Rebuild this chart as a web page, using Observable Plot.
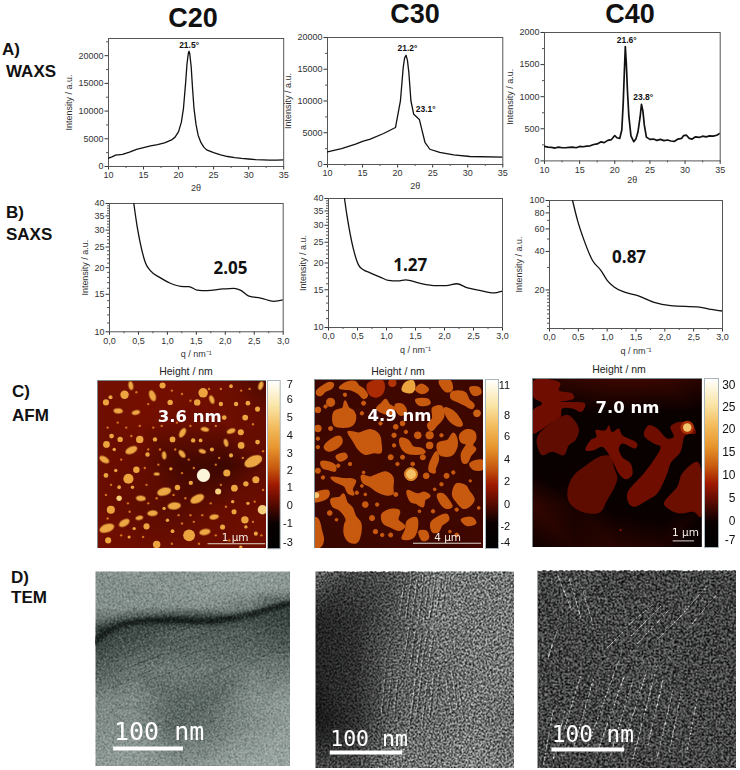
<!DOCTYPE html>
<html>
<head>
<meta charset="utf-8">
<script src="https://cdn.jsdelivr.net/npm/d3@7"></script>
<script src="https://cdn.jsdelivr.net/npm/@observablehq/plot@0.6"></script>
<style>
html,body{margin:0;padding:0;background:#fff}
#fig{position:relative;width:740px;height:770px;overflow:hidden;font-family:"Liberation Sans",sans-serif}
.t{position:absolute;white-space:nowrap;color:#111;line-height:1}
.head{font-weight:700;font-size:27px;transform:translateX(-50%)}
.sec{font-weight:700;font-size:17px}
.hn{font-size:10.5px;transform:translateX(-50%);color:#222}
</style>
</head>
<body>
<svg width="0" height="0" style="position:absolute">
<filter id="grainSoft" x="0" y="0" width="100%" height="100%" color-interpolation-filters="sRGB"><feTurbulence type="fractalNoise" baseFrequency="0.75" numOctaves="2" seed="4"/><feColorMatrix values="1.8 0 0 0 -0.4 1.8 0 0 0 -0.4 1.8 0 0 0 -0.4 0 0 0 0 1"/></filter>
<filter id="grainMid" x="0" y="0" width="100%" height="100%" color-interpolation-filters="sRGB"><feTurbulence type="fractalNoise" baseFrequency="0.75" numOctaves="1" seed="9"/><feColorMatrix values="3.4 0 0 0 -1.2 3.4 0 0 0 -1.2 3.4 0 0 0 -1.2 0 0 0 0 1"/></filter>
<filter id="grainHard" x="0" y="0" width="100%" height="100%" color-interpolation-filters="sRGB"><feTurbulence type="fractalNoise" baseFrequency="0.65" numOctaves="2" seed="15"/><feColorMatrix values="4 0 0 0 -1.5 4 0 0 0 -1.5 4 0 0 0 -1.5 0 0 0 0 1"/></filter>
</svg>
<div id="fig"></div>
<script>
// ---------- WAXS ----------
const waxsC20X=[10,10.5,11,12,13,14,15,16,17,18,19,19.5,20,20.4,20.7,21,21.2,21.4,21.5,21.6,21.8,22,22.2,22.5,22.8,23.2,23.6,24,25,26,27,28,29,30,31,32,33,34,35];
const waxsC20Y=[1500,1750,2050,2200,2600,3100,3400,3700,3950,4250,4800,5300,6300,8000,10500,15000,18500,20500,20800,20300,18000,14000,10500,7500,5600,4300,3500,3000,2500,2100,1800,1600,1450,1350,1250,1200,1150,1150,1200];
const waxsC30X=[10,12,14,15,16.1,18,19.7,20.4,20.8,21,21.2,21.4,21.6,21.9,22.3,22.8,23.1,23.5,23.9,24.6,26,28,30.3,35];
const waxsC30Y=[2000,2500,3200,3650,4000,4880,5830,10000,15300,16800,17200,16400,14500,10000,7900,7400,7100,5300,3500,2400,1900,1520,1260,1150];
const waxsC40X=[10,10.5,11,11.5,12,12.5,13,13.5,14,14.5,15,15.5,16,16.5,17,17.5,18,18.5,19,19.5,20,20.3,20.7,21,21.2,21.35,21.5,21.65,21.8,22,22.3,22.7,23,23.3,23.6,23.8,24,24.2,24.5,25,25.5,26,26.5,27,27.5,28,28.5,29,29.5,29.8,30.2,30.6,31,31.5,32,32.5,33,33.5,34,34.5,35];
const waxsC40Y=[225,215,210,200,215,205,205,210,215,205,225,220,230,235,255,265,295,285,320,330,395,360,350,480,900,1350,1780,1500,1100,700,390,300,340,450,680,880,780,560,370,335,340,320,335,315,325,310,305,340,350,395,400,350,340,375,365,385,375,390,385,400,430];
const waxsXTicks=[10,15,20,25,30,35], waxsXMinor=[12.5,17.5,22.5,27.5,32.5];
const waxsC20Ticks=[0,5000,10000,15000,20000], waxsC20Minor=[2500,7500,12500,17500,22500];
const waxsC40Ticks=[0,500,1000,1500,2000], waxsC40Minor=[250,750,1250,1750];
const peaksC20=[[21.5,21900,"21.5°"]];
const peaksC30=[[21.4,18330,"21.2°"],[24,8720,"23.1°"]];
const peaksC40=[[21.7,1880,"21.6°"],[24.05,997,"23.8°"]];
// ---------- SAXS ----------
const saxsC20X=[.42,.48,.535,.62,.71,.88,1.05,1.28,1.37,1.51,1.69,1.92,2.15,2.26,2.41,2.61,2.84,3];
const saxsC20Y=[40,30.9,25.8,21.1,19.3,17.9,16.9,16.3,16.3,15.7,15.6,15.85,16,15.7,14.7,14.4,13.9,14.1];
const saxsC30X=[.276,.316,.374,.43,.517,.6,.718,.89,1.03,1.2,1.33,1.57,1.86,2.03,2.21,2.4,2.66,2.83,3];
const saxsC30Y=[40,33.6,27.3,23.2,19.6,18.6,18,17.2,16.6,16.5,16.7,16.1,15.7,15.7,16,15.3,14.8,14.5,14.8];
const saxsC40X=[.4,.486,.6,.746,.89,1,1.12,1.29,1.53,1.815,2.1,2.6,2.8,3];
const saxsC40Y=[100,69.9,48.8,34,28.5,23.8,21.1,19.3,18.1,16,15.1,14.7,14.1,13.7];
const saxsXTicks=[0,.5,1,1.5,2,2.5,3], saxsXMinor=[.25,.75,1.25,1.75,2.25,2.75];
const saxsYTicks=[10,15,20,25,30,35,40], saxsYMinor=[11,12,13,14,16,17,18,19,21,22,23,24,26,27,28,29,31,32,33,34,36,37,38,39];
const saxsC40Ticks=[20,40,60,80,100], saxsC40Minor=[10,11,12,13,14,15,16,17,18,19,30,50,70,90];
// ---------- AFM: positions are percent of the scan, h is height in nm ----------
const rampStops=[0,.15,.3,.38,.48,.6,.72,.85,1];
const rampColors=["#000000","#0a0000","#6e0e00","#a01a00","#c85a10","#e8962e","#f3bb5c","#fae6a8","#ffffff"];
const bgAxis=[0,25,50,75,100];
const afm20Bg=[.5,.5,.5,.4,-.1, .4,.5,.4,.4,.3, .4,.3,-.2,-.3,.2, .4,.2,.1,.3,.4, .5,.4,.4,.4,.4];
const afm30Bg=[-.5,-.6,-.5,-.5,-.6, -.6,-.5,-.5,-.6,-.5, -.5,-.5,-.6,-.5,-.6, -.6,-.5,-.5,-.5,-.5, -.7,-.6,-.5,-.6,-.5];
const afm40Bg=[.5,2,2.6,2.5,1.5, -1,-1,-1,-1,-1, -1,-.5,-.8,-1,-1, 2,.5,-.6,-1,0, 0,1,1.5,1,-1];
// x, y, r, rotate
const afm20Oval=[[19.7,3,2.6,80],[32.5,9,3.4,70],[12.2,18,2.8,5],[22.7,19,2.5,-10],[50.3,31,3.1,-60],[63.5,29,2.5,10],[79,30,2.7,-20],[76,37,2.4,75],[20,41.4,3.7,-25],[39.4,44.5,2.4,85],[50,43.6,2.7,50],[62,42,2.2,15],[4,47,3.2,30],[92.2,48,5.6,-25],[35,55.5,1.8,0],[39.4,66,4.2,-15],[25.6,70,2.9,5],[59,70.3,4.3,-25],[45.4,74.5,3.9,-5],[32.5,78.8,3.1,-5],[24.7,81.6,2.3,-10],[69,81,2.8,-10],[5.5,87.7,4.5,-20],[15.8,84.6,3.5,-30],[63.5,90,3.3,-10],[96.6,3,2.6,-70],[67.6,11.3,2.6,70]];
// x, y, r
const afm20Round=[[38.5,3,1.8],[16,8.5,2.5],[62.5,7.3,2.8],[5,13,1.8],[7.7,10,1.2],[43,13,1.6],[59,13,1.9],[73,14,1.3],[82,14,1.3],[89,13.5,1.4],[94.7,17,1.5],[79,3.4,1.1],[84.8,30.7,1.8],[87.4,22,1.7],[75,22,1.4],[25,35,2.2],[13.4,35,1.6],[8.3,33,1.4],[5.3,38,2],[34,35,1.3],[44.4,35,1.7],[56.6,35.6,1.3],[61,35.6,1.1],[85,38.6,2],[94.7,36.6,1.4],[9.9,41,1],[67.7,41,1.2],[79,44.5,1.2],[29.6,44,1.3],[23,53,1.9],[10.8,53.5,1],[43.4,52.5,1],[76.5,55,2.1],[18.3,58.4,3],[5,56.4,1.4],[93.7,59,2.1],[87.8,61.4,1.6],[81,64,2],[47.3,63.6,1.6],[55.2,60.8,1.3],[12.8,63.4,1.1],[20.7,63.4,1],[12.8,70,1.6],[39.4,76,1],[7.9,76.8,2.4],[80.8,78,1.5],[87.2,82.8,2.2],[80,72,1],[89,73,1],[29,86.7,1.8],[41.4,83,1],[54.2,92,3.5],[74,87,1.5],[44.4,89.5,1.1],[6.3,95,1.8],[35,97.4,2.2],[21.7,88,1],[18.7,93,.9],[84.8,99,1],[87.8,87,1],[93.7,91,1.2]];
const afm20Bright=[[62.7,56.4,3.9,6.5],[71.4,66,1.8,5],[97.6,76.8,2.8,5],[12.8,70,1.4,5]];
const afm20Specks=[[23,7],[30,14],[44,6],[50,8],[55,12],[66,5],[73,5],[85,6],[90,5],[12,25],[17,28],[25,27],[33,28],[38,27],[47,25],[55,27],[70,27],[92,26],[6,28],[20,33],[30,41],[37,41],[46,41],[54,47],[72,46],[86,46],[14,47],[28,52],[36,50],[50,55],[57,52],[70,50],[98,42],[8,62],[29,62],[35,70],[45,68],[52,70],[67,73],[73,62],[98,65],[93,72],[5,68],[18,73],[30,73],[6,82],[19,78],[48,80],[55,80],[62,80],[76,75],[92,84],[14,92],[27,93],[50,85],[57,84],[70,92],[78,95],[97,92],[44,97],[60,97]];
const afm30Shapes=[
[3.3,[1.5,7,5,4,9,2,11,3,10,5,6,7,4,9,2,9]],[3.3,[15,5,19,2,24,1.5,26,4,29,6,31,9.5,29,11,26,8,22,6,19,5.5]],[2.2,[31.5,3,35,1,40,1,41,4,40,8,37,10,33,9,31.5,6]],[5.8,[52,6,54,2,58,1,59,5,58,7,55,7.5]],[3.3,[60,6,63,3,67,6,64,8]],[3.3,[74,1,80,1,81,6,78,7,75,4]],[3.3,[81,8,85,7,89,8,91,12,94,15,93,17,89,15,85,13,81,11]],[3.3,[92,5,97,5,98,8,94,9]],[3.3,[12,19,17,17,18,13,20,17,23,19,24,23,22,27,17,28,12,27,11,23]],[3.3,[37,17,40,14,42,12,44,15,47,17,46,20,42,20,39,19]],[3.3,[60,12,67,12,68,14,62,15]],[3.3,[48,15,52,15,54,19,51,21,49,19]],[3.3,[70,17,75,16,76,22,72,27,69,30,67,27,70,23]],[3.3,[77,17,82,19,86,24,87,27,84,27,79,23]],[3.3,[20,31,26,32,33,30,38,33,39,38,39,43,35,43,30,44,26,41,23,36]],[3.3,[6,40,11,35,15,34,16,37,12,41,8,42]],[3.3,[51,35,55,36,58,40,63,41,65,43,60,44,54,43,51,39]],[3.3,[73,38,79,36,82,32,84,36,83,42,80,45,74,44]],[3.3,[86,33,90,30,94,31,95,35,93,39,95,41,92,45,90,49,88,49,87,44,90,38,87,37]],[3.3,[68,51,70,46,72,43,73,47,71,53,71,55,68,54]],[3.3,[4,49,8,49,12,51,12,54,8,53,5,52]],[3.3,[13,45.5,18,44,19,46,15,48]],[3.3,[28,57,33,58,37,56.5,42,55,46,58,46,64,46,67.5,42,68,37,66,33,63,29,61]],[3.3,[10,58,18,59,22,59,24,60,22,65,23,68,20,67,18,63,12,60]],[3.3,[84,62,89,63,91,66,94,71,91,75,88,76,84,72,82,69,82,66]],[3.3,[10,71,15,70,17,68,19,73,22,76,24,81,27,85,27,91,25,96,21,96,18,92,18,86,19,83,15,77,11,75]],[3.3,[55,66,61,68,65,67,68,69,65,71,64,75,60,73,57,72]],[3.3,[73,68,76,68,80,73,81,75,78,76,74,72]],[3.3,[40,80,46,77,50,78,49,83,53,87,50,89,45,87,41,85]],[3.3,[55,84,60,82,60,90,57,94,52,94,54,89]],[3.3,[69,85,74,81,78,80,79,83,75,86,73,90,70,90]],[3.3,[87,83,93,82,95,85,90,86]],[3.3,[0,82,2,83,4,90,5,95,3,99,0,99]],[3.3,[0,68,8,66,8,69,2,72,0,72]],[3.3,[62,90,66,90,67,94,64,95]],[3.3,[92,50,99,48,99,53,94,53]]];
const afm30Dots=[[46,2,2.2,2.4],[2,18,1.7,3.3],[6.5,16,1,3.3],[9.5,13.5,2.4,3.3],[29,14,1.2,3.3],[28,20,1,3.3],[18,9,1,3.3],[39,26,1,3.3],[48,28,1.4,3.3],[52,26,1.4,3.3],[2,29,2,3.3],[9.5,29,1.2,3.3],[2,35,1,3.3],[2,40,1,3.3],[47,33,1.3,3.3],[54,31,1,3.3],[61,33,2,3.3],[68,33,2.2,3.3],[68,39,2,3.3],[75,33,1,3.3],[47,39,1,3.3],[45,46,1.5,3.3],[52,46,1.2,3.3],[58,50,1.1,3.3],[64,46,1.5,3.3],[14,51,1,3.3],[21,50,1,3.3],[2,54,1.5,3.3],[5,58,1,3.3],[29,55,.8,3.3],[49,50,1,3.3],[66,57,1.7,3.3],[78,57,1.5,3.3],[82,55,1,3.3],[96,20,2,3.6],[25,67,1,3.3],[28,63,.8,3.3],[30,68,.8,3.3],[48,68,1.2,3.3],[30,74,1.7,3.3],[37,74,1,3.3],[9,79,1.4,3.3],[13,83,.8,3.3],[34,82,1.5,3.3],[36,90,1.3,3.3],[40,92,1,3.3],[45,92,1.2,3.3],[62,78,.8,3.3],[70,78,1,3.3],[84,77,1,3.3],[80,90,.8,3.3],[84,92,1.1,3.3],[97,76,.8,3.3],[75,62,1,3.3],[71,65,.8,3.3],[92,60,.7,3.3],[57,56,3.8,4.6],[57,56,2.6,7.2],[1,68.5,1.5,7.5]];
const afm40Shapes=[
[5.4,[1,1,12.6,1,16.5,3,15.5,7,23.4,8.9,24.4,11.8,16.5,13.8,31,14.8,29,19.7,23.4,17.8,17.5,17.8,16.5,22.7,10.6,26.6,4.7,30.6,.4,32.5,.4,18.7,5.7,14.8,.4,10.8]],
[4.6,[3,34,10.6,26.6,16.5,22.7,21.4,21.7,27.3,29.6,25.3,36.5,21.4,39.5,18.5,45.4,11.6,43.4,5.7,45.4,2.7,39.5]],
[4.4,[32,51,40,46,46,46,48,52.4,50,59,48,65,44,72,40,79,34,80,27,78,21.4,73,20.8,65.1,24.4,57.2]],
[5.6,[31.2,42.4,34.2,36.5,37.7,34.5,37.1,30.6,43,30.6,45,27.6,46.9,31.6,50.9,29.6,52.8,33.5,61.7,38.5,60.7,41.4,52.8,38.5,50.9,41.4,52.8,46.4,57.8,50.3,58.7,57.2,54.8,59.6,50.9,56.2,47.9,50.3,45.9,46.4,41,40.4,36.1,42.4]],
[5.4,[55.8,68,65.6,56.2,71.5,48.3,75.4,40.4,71.5,38.5,65.6,33.5,68.5,27.6,73.5,29.6,79.4,35.5,83.3,34.5,81.3,28.6,87.2,25.6,95.1,28.6,96.1,32.5,90.2,33.5,87.2,43.4,81.3,50.3,79.4,56.2,73.5,68,67.6,72,59.7,75.9,56.8,73.9]],
[5.2,[77.4,74,85.3,64.1,88.2,56.2,97,49.3,99.4,54.2,99,82,95.1,79,87.2,79.9,81.3,77.9]]];
const afm40Dots=[[91.2,29,4,9.5],[91.2,29,2.5,22],[51.9,89.7,.7,7]];
const afmLabels=[["3.6 nm",54.6,21.4],["4.9 nm",50.2,21.7],["7.0 nm",56,17]];
const afmBars=[[65.4,99.5,97,"1 µm",81.4,93.5],[58.5,98.7,96.9,"4 µm",78.6,93.4],[82.9,95.5,96.1,"1 µm",90.2,91.5]];
const cb20Labels=["7","6","5","4","3","2","1","0","-1","-3"], cb20Pos=[.974,.885,.778,.673,.568,.465,.362,.257,.152,.036];
const cb30Labels=["11","8","6","4","2","0","-2","-4"], cb30Pos=[.966,.789,.661,.529,.394,.262,.132,.036];
const cb40Labels=["30","25","20","15","10","5","0","-7"], cb40Pos=[.961,.832,.70,.562,.428,.29,.156,.043];
// ---------- TEM: positions are percent of the micrograph, v is grey level ----------
const temCols=[0,20,40,60,80,100];
const tem20Rows=[0,10,18,24,30,40,50,65,80,100];
const tem20V=[.55,.58,.55,.6,.62,.6, .55,.55,.57,.6,.6,.55, .55,.55,.55,.55,.45,.15, .45,.25,.12,.15,.2,.2, .12,.2,.3,.3,.3,.22, .2,.3,.35,.35,.35,.3, .3,.42,.45,.42,.45,.45, .5,.52,.36,.36,.55,.6, .55,.55,.36,.42,.55,.62, .6,.62,.55,.6,.65,.65];
const tem30Rows=[0,25,50,75,100];
const tem30V=[.4,.3,.35,.5,.5,.5, .15,.2,.35,.5,.5,.5, .15,.2,.4,.45,.5,.5, .1,.2,.4,.45,.5,.45, .3,.3,.5,.5,.55,.5];
const tem40V=[.29,.31,.29,.29,.3,.29, .28,.29,.3,.29,.29,.28, .29,.29,.3,.31,.29,.29, .3,.29,.31,.29,.3,.29, .29,.29,.29,.29,.3,.3];
const ridgeX=[0,6,12,20,30,40,50,60,70,80,90,100], ridgeY=[36,31,28,26,25,25,25.5,25.5,24,22,19,16.5];
const tem20Streaks=[[5,45,25,38],[10,52,35,42],[28,32,55,26],[35,38,62,30],[45,44,75,33],[60,45,90,30],[70,38,95,27],[20,48,48,38],[30,55,60,44],[55,55,85,42],[8,60,30,50],[75,50,100,36],[40,30,65,27],[15,36,30,31],[80,30,98,24]];
const tem30Streaks=[[45,2,42,22],[48,2,45,24],[51,2,48,25],[54,2,51,28],[57,2,54,26],[60,3,57,24],[63,4,60,22],[66,3,63,20],[47,28,44,45],[50,30,47,50],[53,32,50,52],[56,30,53,48],[59,32,56,50],[50,55,47,78],[53,52,50,75],[56,55,53,80],[59,52,57,74],[62,50,60,70],[65,52,68,72],[68,50,71,70],[71,55,74,75],[35,50,33,72],[38,50,36,70],[41,55,39,75],[46,80,44,92]];
const tem40Streaks=[[10,2,17,20],[16,4,22,25],[22,8,28,28],[44,29,58,17],[47,33,62,18],[50,37,66,20],[13,82,22,52],[18,90,28,55],[25,89,41,45],[30,92,44,52],[36,95,48,55],[42,92,55,50],[48,95,60,48],[55,90,63,55],[60,95,68,60],[3,98,8,70],[8,95,14,70],[66,92,72,62],[75,92,80,65],[34,40,44,30],[70,25,85,8],[75,30,90,12],[60,35,75,20],[5,45,10,30]];
const temBars=[[9.3,45.2,90.9,"100 nm",9.5,86.3,25],[7.4,43.8,91.9,"100 nm",7.4,88.6,21.5],[7.2,43.8,90.4,"100 nm",7.2,86.7,22.7]];

// ---------- page helpers ----------
const fig=document.getElementById("fig");
const add=(el,l,t)=>{el.style.position="absolute";el.style.left=l+"px";el.style.top=t+"px";fig.append(el)};
const label=(txt,cls,l,t)=>{const d=document.createElement("div");d.className="t "+cls;d.textContent=txt;d.style.left=l+"px";d.style.top=t+"px";fig.append(d)};
const zip=(xs,ys)=>xs.map((x,i)=>({x,y:ys[i]}));
const FONT="Liberation Sans, sans-serif";
const commaFmt=d=>d.toFixed(1).replace(".",",");
const SOFT="blur(0.4px)";

function chart(b,o){
  const ml=50,mr=14,mt=6,mb=30;
  const p=Plot.plot({width:b.r-b.l+ml+mr,height:b.b-b.t+mt+mb,marginLeft:ml,marginRight:mr,marginTop:mt,marginBottom:mb,
    style:{background:"transparent",fontFamily:FONT,overflow:"visible"},
    x:{domain:o.xd},y:{domain:o.yd,type:o.log?"log":"linear"},
    marks:[
      Plot.axisX(o.xm,{tickSize:2,tickFormat:()=>"",label:null,color:"#555"}),
      Plot.axisY(o.ym,{tickSize:2,tickFormat:()=>"",label:null,color:"#555"}),
      Plot.axisX(o.xt,{tickSize:3.5,tickPadding:2,fontSize:9,color:"#333",tickFormat:o.xf,label:o.xl,labelAnchor:"center",labelArrow:"none",labelOffset:o.xo}),
      Plot.axisY(o.yt,{tickSize:3.5,tickPadding:1.5,fontSize:9,color:"#333",tickFormat:o.log?()=>"":(d=>String(d)),label:"Intensity / a.u.",labelAnchor:"center",labelArrow:"none",labelOffset:o.yo}),
      o.log?Plot.text(o.yt,{y:d=>d,text:d=>String(d),frameAnchor:"left",textAnchor:"end",dx:-5,fontSize:9,fill:"#333"}):null,
      Plot.frame({stroke:"#555",strokeWidth:1}),
      Plot.line(zip(o.cx,o.cy),{x:"x",y:"y",stroke:"#111",strokeWidth:o.lw||1.3,curve:o.curve||"linear",clip:true,imageFilter:"blur(0.25px)"}),
      o.notes?Plot.text(o.notes,{x:d=>d[0],y:d=>d[1],text:d=>d[2],fontWeight:"bold",fontSize:o.noteSize||8.5,fill:"#111",fontFamily:o.noteFont||FONT}):null
    ]});
  add(p,b.l-ml,b.t-mt);
}
const ovalSym={draw(c,size){const r=Math.sqrt(size/Math.PI),a=r,b=r*.55,k=.5523;
  c.moveTo(a,0);c.bezierCurveTo(a,k*b,k*a,b,0,b);c.bezierCurveTo(-k*a,b,-a,k*b,-a,0);c.bezierCurveTo(-a,-k*b,-k*a,-b,0,-b);c.bezierCurveTo(k*a,-b,a,-k*b,a,0);c.closePath();}};
const shapeRows=s=>s.flatMap(([h,p],id)=>d3.range(0,p.length,2).map(i=>({id,h,x:p[i],y:p[i+1]})));
const gridRows=(xs,ys,v,key)=>ys.flatMap((y,j)=>xs.map((x,i)=>({x,y,[key]:v[j*xs.length+i]})));

function afm(b,lo,hi,bg,marks,lab,bar){
  const w=b.r-b.l,h=b.b-b.t;
  const p=Plot.plot({width:w,height:h,margin:0,style:{background:"transparent",fontFamily:FONT},
    x:{domain:[0,100],axis:null},y:{domain:[100,0],axis:null},
    r:{type:"linear",domain:[0,100],range:[0,w]},
    color:{type:"linear",clamp:true,domain:rampStops.map(f=>lo+f*(hi-lo)),range:rampColors},
    marks:[
      Plot.raster(gridRows(bgAxis,bgAxis,bg,"h"),{x:"x",y:"y",fill:"h",interpolate:"barycentric"}),
      ...marks,
      Plot.ruleY([bar],{y:d=>d[2],x1:d=>d[0],x2:d=>d[1],stroke:"#f2ece0",strokeWidth:1,strokeOpacity:.9}),
      Plot.text([bar],{x:d=>d[4],y:d=>d[5],text:d=>d[3],fill:"#f5f0e6",fontSize:10.5,fontFamily:"DejaVu Sans"}),
      Plot.text([lab],{x:d=>d[1],y:d=>d[2],text:d=>d[0],fill:"#fff",fontWeight:"bold",fontSize:16.5,fontFamily:"DejaVu Sans"}),
      Plot.frame({stroke:"#7d8a90",strokeWidth:1})
    ]});
  add(p,b.l,b.t);
}
function colorbar(b,labels,pos,pad,fs){
  const mr=34,w=b.r-b.l;
  const p=Plot.plot({width:w+mr,height:b.b-b.t,marginLeft:0,marginRight:mr,marginTop:0,marginBottom:0,
    style:{background:"transparent",fontFamily:FONT,overflow:"visible"},
    x:{domain:[0,1],axis:null},y:{domain:[0,1],axis:null},
    color:{type:"linear",domain:rampStops,range:rampColors},
    marks:[
      Plot.raster({x1:0,x2:1,y1:0,y2:1,width:2,height:Math.round(b.b-b.t),fill:(x,y)=>y}),
      Plot.frame({stroke:"#a9b6bb",strokeWidth:1}),
      Plot.axisY(pos,{anchor:"right",tickSize:0,tickPadding:pad,textAnchor:"end",fontSize:fs,color:"#111",label:null,tickFormat:d=>labels[pos.indexOf(d)]})
    ]});
  add(p,b.l,b.t);
}
function tem(b,rows,v,range,marks,filterId,blend,bar){
  const w=b.r-b.l,h=b.b-b.t;
  const p=Plot.plot({width:w,height:h,margin:0,style:{background:"transparent",fontFamily:FONT},
    x:{domain:[0,100],axis:null},y:{domain:[100,0],axis:null},
    color:{type:"linear",domain:[0,1],range},
    marks:[
      Plot.raster(gridRows(temCols,rows,v,"v"),{x:"x",y:"y",fill:"v",interpolate:"barycentric"}),
      ...marks,
      Plot.frame({fill:"#808080",stroke:"none",mixBlendMode:blend,imageFilter:`url(#${filterId})`}),
      Plot.ruleY([bar],{y:d=>d[2],x1:d=>d[0],x2:d=>d[1],stroke:"#fff",strokeWidth:4}),
      Plot.text([bar],{x:d=>d[4],y:d=>d[5],text:d=>d[3],textAnchor:"start",lineAnchor:"bottom",fill:"#fff",fontSize:bar[6],fontFamily:"DejaVu Sans Mono"})
    ]});
  add(p,b.l,b.t);
}
const streak=(s,stroke,w,op,extra={})=>Plot.link(s,{x1:d=>d[0],y1:d=>d[1],x2:d=>d[2],y2:d=>d[3],stroke,strokeWidth:w,strokeOpacity:op,...extra});

// ---------- headings ----------
label("C20","head",193,5);label("C30","head",415,1);label("C40","head",630,1);
label("A)","sec",2,41);label("WAXS","sec",6,63);
label("B)","sec",6,204);label("SAXS","sec",6,226);
label("C)","sec",12,383);label("AFM","sec",12,407);
label("D)","sec",11,569);label("TEM","sec",11,589);
label("Height / nm","hn",186,366);label("Height / nm","hn",398,366);label("Height / nm","hn",619,364);

// ---------- A) WAXS ----------
chart({l:107.5,r:282.7,t:37.7,b:165.7},{xd:[10,35],yd:[0,23100],xt:waxsXTicks,xm:waxsXMinor,yt:waxsC20Ticks,ym:waxsC20Minor,xf:d=>String(d),xl:"2θ",xo:25,yo:43,cx:waxsC20X,cy:waxsC20Y,notes:peaksC20});
chart({l:327,r:502.3,t:36.7,b:163.7},{xd:[10,35],yd:[0,20000],xt:waxsXTicks,xm:waxsXMinor,yt:waxsC20Ticks,ym:waxsC20Minor.slice(0,4),xf:d=>String(d),xl:"2θ",xo:25,yo:43,cx:waxsC30X,cy:waxsC30Y,notes:peaksC30});
chart({l:544.3,r:720,t:32.3,b:160.7},{xd:[10,35],yd:[0,2000],xt:waxsXTicks,xm:waxsXMinor,yt:waxsC40Ticks,ym:waxsC40Minor,xf:d=>String(d),xl:"2θ",xo:22,yo:37.5,lw:1.7,cx:waxsC40X,cy:waxsC40Y,notes:peaksC40});

// ---------- B) SAXS ----------
const bigNote={noteSize:17,noteFont:"Open Sans, sans-serif",curve:"monotone-x"};
chart({l:109,r:282.7,t:202.7,b:331},{xd:[0,3],yd:[10,40],log:true,xt:saxsXTicks,xm:saxsXMinor,yt:saxsYTicks,ym:saxsYMinor,xf:commaFmt,xl:"q / nm⁻¹",xo:25,yo:28,cx:saxsC20X,cy:saxsC20Y,notes:[[2.09,19.7,"2.05"]],...bigNote});
chart({l:328.3,r:502.3,t:197.7,b:326.7},{xd:[0,3],yd:[10,40],log:true,xt:saxsXTicks,xm:saxsXMinor,yt:saxsYTicks,ym:saxsYMinor,xf:commaFmt,xl:"q / nm⁻¹",xo:25,yo:29,cx:saxsC30X,cy:saxsC30Y,notes:[[1.41,19.4,"1.27"]],...bigNote});
chart({l:548.7,r:721.7,t:200,b:328},{xd:[0,3],yd:[10,100],log:true,xt:saxsXTicks,xm:saxsXMinor,yt:saxsC40Ticks,ym:saxsC40Minor,xf:commaFmt,xl:"q / nm⁻¹",xo:25,yo:34,cx:saxsC40X,cy:saxsC40Y,notes:[[1.38,36.1,"0.87"]],...bigNote});

// ---------- C) AFM ----------
afm({l:96.7,r:265.7,t:380,b:548.3},-2.45,7.1,afm20Bg,[
  Plot.dot(afm20Specks,{x:d=>d[0],y:d=>d[1],r:()=>.7,fill:()=>2.6,imageFilter:SOFT}),
  Plot.dot(afm20Round,{x:d=>d[0],y:d=>d[1],r:d=>d[2],fill:()=>3.7,imageFilter:SOFT}),
  Plot.dot(afm20Oval,{x:d=>d[0],y:d=>d[1],r:d=>d[2],rotate:d=>d[3],symbol:ovalSym,fill:()=>3.8,imageFilter:SOFT}),
  Plot.dot(afm20Bright,{x:d=>d[0],y:d=>d[1],r:d=>d[2],fill:d=>d[3],imageFilter:SOFT})
],afmLabels[0],afmBars[0]);
colorbar({l:267.3,r:280,t:380,b:548.3},cb20Labels,cb20Pos,12.6,11);

afm({l:314,r:483.3,t:379.3,b:548.3},-4,11.2,afm30Bg,[
  Plot.line(shapeRows(afm30Shapes),{x:"x",y:"y",z:"id",fill:"h",stroke:"h",strokeWidth:2.2,strokeLinejoin:"round",curve:"catmull-rom-closed",imageFilter:SOFT}),
  Plot.dot(afm30Dots,{x:d=>d[0],y:d=>d[1],r:d=>d[2],fill:d=>d[3],stroke:d=>d[3],strokeWidth:1,imageFilter:SOFT})
],afmLabels[1],afmBars[1]);
colorbar({l:485.3,r:498.3,t:379.3,b:548.3},cb30Labels,cb30Pos,11.7,11);

afm({l:532,r:701.7,t:378.3,b:547.3},-5.8,31.25,afm40Bg,[
  Plot.line(shapeRows(afm40Shapes),{x:"x",y:"y",z:"id",fill:"h",stroke:"none",curve:"catmull-rom-closed",imageFilter:SOFT}),
  Plot.dot(afm40Dots,{x:d=>d[0],y:d=>d[1],r:d=>d[2],fill:d=>d[3],imageFilter:SOFT})
],afmLabels[2],afmBars[2]);
colorbar({l:704,r:718,t:378.3,b:547.3},cb40Labels,cb40Pos,17,12);

// ---------- D) TEM ----------
tem({l:95,r:289.5,t:571,b:765.7},tem20Rows,tem20V,["#141f1c","#e0ece8"],[
  streak(tem20Streaks,"#26312e",1,.35),
  Plot.line(zip(ridgeX,ridgeY),{x:"x",y:"y",stroke:"#0e1412",strokeWidth:6,strokeOpacity:.8,curve:"catmull-rom",imageFilter:"blur(1.5px)"})
],"grainSoft","soft-light",temBars[0]);
tem({l:314.8,r:514,t:571,b:768},tem30Rows,tem30V,["#000000","#e6ebe8"],[
  streak(tem30Streaks,"#e8ece9",1,.35),
  streak(tem30Streaks,"#0a0f0d",1,.4,{dx:1.6})
],"grainMid","overlay",temBars[1]);
tem({l:536.7,r:736,t:570,b:768},tem30Rows,tem40V,["#000000","#e6ebe8"],[
  streak(tem40Streaks,"#f0f3f1",.9,.45)
],"grainHard","overlay",temBars[2]);
</script>
</body>
</html>
